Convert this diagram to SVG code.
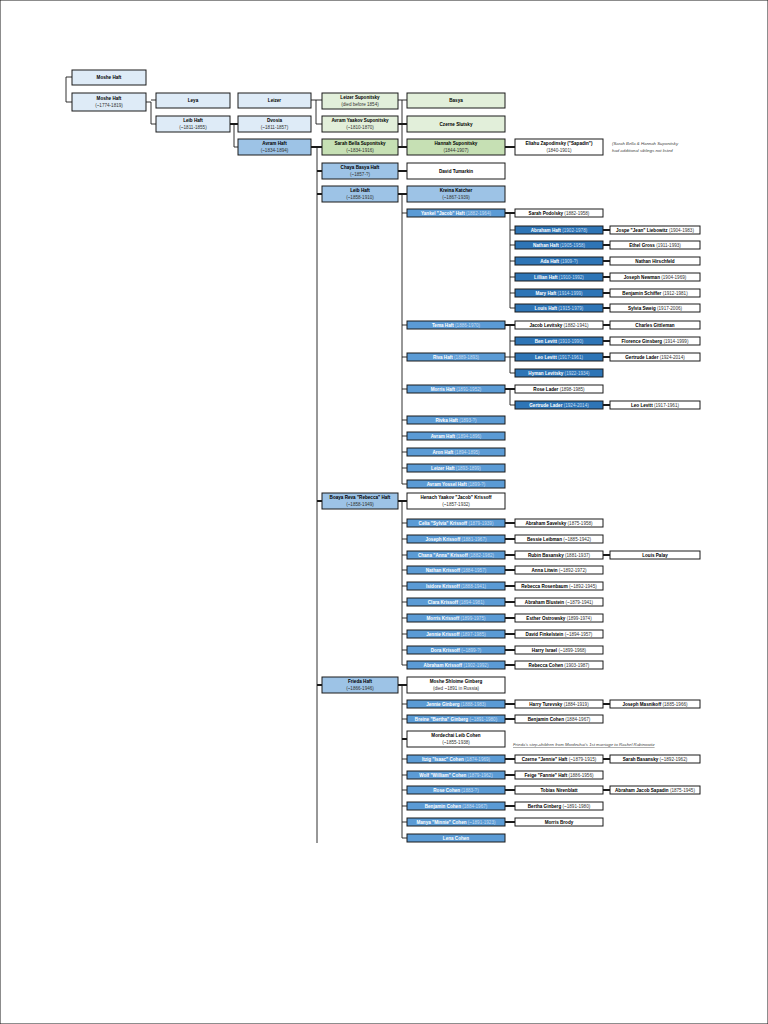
<svg xmlns="http://www.w3.org/2000/svg" width="768" height="1024" viewBox="0 0 768 1024">
<style>
rect{stroke:#1a1a1a;stroke-width:1}
.l1{fill:#deebf7}.l2{fill:#9dc3e6}.g1{fill:#e2efda}.g2{fill:#c6e0b4}.w{fill:#fff}.c1{fill:#5b9bd5}.c2{fill:#2e75b6}
text{font-family:"Liberation Sans",Arial,sans-serif;font-size:4.6px;text-anchor:middle}
.b{font-weight:bold;fill:#000}.wb{font-weight:bold;fill:#fff}.dt{font-weight:normal;fill:#333}.ld{font-weight:normal;fill:#c9def2}
.note{font-style:italic;fill:#444;text-anchor:start;font-size:4.3px}
#conn path{fill:none;stroke:#1a1a1a;stroke-width:0.9}
#conn .t{stroke-width:2}
</style>
<rect width="768" height="1024" fill="#fff" stroke="none"/>
<g id="conn">
<path d="M72 77H66V102H72"/>
<path d="M146 102H151V124H156M151 100H156"/>
<path class="t" d="M230 124H238"/>
<path d="M234 124V147H238"/>
<path d="M311 100H316V124H322M316 100H322"/>
<path d="M398 100H407M402 100V147"/>
<path class="t" d="M398 124H407"/>
<path class="t" d="M398 147H407M505 147H515"/>
<path class="t" d="M311 147H317"/>
<path d="M317 147V843"/>
<path class="t" d="M317 147H322M317 171H322M317 194H322M317 501H322M317 685H322"/>
<path class="t" d="M398 171H407M398 194H407M398 501H407M398 685H407"/>
<path d="M402 194V484M402 501V665M402 685V838"/>
<path d="M402 213H407M402 325H407M402 357H407M402 389H407M402 420H407M402 436H407M402 452H407M402 468H407M402 484H407"/>
<path class="t" d="M505 213H515M505 325H515M505 389H515"/>
<path d="M510 213V308M510 230H515M510 245H515M510 261H515M510 277H515M510 293H515M510 308H515"/>
<path class="t" d="M603 230H610M603 245H610M603 261H610M603 277H610M603 293H610M603 308H610"/>
<path d="M510 325V373M510 341H515M510 357H515M510 373H515M505 357H510"/>
<path class="t" d="M603 325H610M603 341H610M603 357H610"/>
<path d="M510 389V405H515"/>
<path class="t" d="M603 405H610"/>
<path d="M402 523H407M402 539H407M402 555H407M402 570H407M402 586H407M402 602H407M402 618H407M402 634H407M402 650H407M402 665H407"/>
<path class="t" d="M505 523H515M505 539H515M505 555H515M505 570H515M505 586H515M505 602H515M505 618H515M505 634H515M505 650H515M505 665H515M603 555H610"/>
<path d="M402 704H407M402 719H407M402 759H407M402 775H407M402 790H407M402 806H407M402 822H407M402 838H407"/>
<path class="t" d="M402 739H407M505 704H515M603 704H610M505 719H515M505 759H515M603 759H610M505 775H515M505 790H515M603 790H610M505 806H515M505 822H515"/>
</g>
<g id="moshe1"><rect class="l1" x="72" y="70" width="74" height="15"/><text class="b" x="109" y="79">Moshe Haft</text></g>
<g id="moshe2"><rect class="l1" x="72" y="93" width="74" height="18"/><text class="b" x="109" y="99.5">Moshe Haft</text><text class="dt" x="109" y="107">(~1774-1819)</text></g>
<g id="leya"><rect class="l1" x="156" y="93" width="74" height="15"/><text class="b" x="193" y="102">Leya</text></g>
<g id="leib1"><rect class="l1" x="156" y="116" width="74" height="16"/><text class="b" x="193" y="121.5">Leib Haft</text><text class="dt" x="193" y="129">(~1811-1855)</text></g>
<g id="leizer"><rect class="l1" x="238" y="93" width="73" height="15"/><text class="b" x="274.5" y="102">Leizer</text></g>
<g id="dvosia"><rect class="l1" x="238" y="116" width="73" height="16"/><text class="b" x="274.5" y="121.5">Dvosia</text><text class="dt" x="274.5" y="129">(~1811-1857)</text></g>
<g id="avram1"><rect class="l2" x="238" y="139" width="73" height="16"/><text class="b" x="274.5" y="144.5">Avram Haft</text><text class="dt" x="274.5" y="152">(~1834-1894)</text></g>
<g id="leizersup"><rect class="g1" x="322" y="93" width="76" height="16"/><text class="b" x="360" y="98.5">Leizer Suponitsky</text><text class="dt" x="360" y="106">(died before 1854)</text></g>
<g id="avramyaakov"><rect class="g1" x="322" y="116" width="76" height="16"/><text class="b" x="360" y="121.5">Avram Yaakov Suponitsky</text><text class="dt" x="360" y="129">(~1810-1870)</text></g>
<g id="sarahbella"><rect class="g2" x="322" y="139" width="76" height="16"/><text class="b" x="360" y="144.5">Sarah Bella Suponitsky</text><text class="dt" x="360" y="152">(~1834-1916)</text></g>
<g id="chaya"><rect class="l2" x="322" y="163" width="76" height="16"/><text class="b" x="360" y="168.5">Chaya Basya Haft</text><text class="dt" x="360" y="176">(~1857-?)</text></g>
<g id="leib2"><rect class="l2" x="322" y="186" width="76" height="16"/><text class="b" x="360" y="191.5">Leib Haft</text><text class="dt" x="360" y="199">(~1858-1910)</text></g>
<g id="boaya"><rect class="l2" x="322" y="493" width="76" height="16"/><text class="b" x="360" y="498.5">Boaya Reva "Rebecca" Haft</text><text class="dt" x="360" y="506">(~1858-1949)</text></g>
<g id="frieda"><rect class="l2" x="322" y="677" width="76" height="16"/><text class="b" x="360" y="682.5">Frieda Haft</text><text class="dt" x="360" y="690">(~1866-1946)</text></g>
<g id="basya"><rect class="g1" x="407" y="93" width="98" height="15"/><text class="b" x="456" y="102">Basya</text></g>
<g id="czerne"><rect class="g1" x="407" y="116" width="98" height="16"/><text class="b" x="456" y="125.5">Czerne Slutsky</text></g>
<g id="hannah"><rect class="g2" x="407" y="139" width="98" height="16"/><text class="b" x="456" y="144.5">Hannah Suponitsky</text><text class="dt" x="456" y="152">(1844-1907)</text></g>
<g id="eliahu"><rect class="w" x="515" y="139" width="88" height="16"/><text class="b" x="559" y="144.5">Eliahu Zapodinsky ("Sapadin")</text><text class="dt" x="559" y="152">(1840-1901)</text></g>
<text class="note" x="612" y="144.5">(Sarah Bella &amp; Hannah Suponitsky</text>
<text class="note" x="612" y="152">had additional siblings not listed</text>
<g id="david"><rect class="w" x="407" y="163" width="98" height="16"/><text class="b" x="456" y="172.5">David Tumarkin</text></g>
<g id="kreina"><rect class="l2" x="407" y="186" width="98" height="16"/><text class="b" x="456" y="191.5">Kreina Katcher</text><text class="dt" x="456" y="199">(~1867-1939)</text></g>

<g id="yankel"><rect class="c1" x="407" y="209" width="98" height="8"/><text class="wb" x="456" y="214.7">Yankel "Jacob" Haft <tspan class="ld">(1882-1964)</tspan></text></g>
<g id="sarahp"><rect class="w" x="515" y="209" width="88" height="8"/><text class="b" x="559" y="214.7">Sarah Podolsky <tspan class="dt">(1882-1958)</tspan></text></g>
<g id="abraham1"><rect class="c2" x="515" y="226" width="88" height="8"/><text class="wb" x="559" y="231.7">Abraham Haft <tspan class="ld">(1902-1978)</tspan></text></g>
<g id="jospe"><rect class="w" x="610" y="226" width="90" height="8"/><text class="b" x="655" y="231.7">Jospe "Jean" Liebowitz <tspan class="dt">(1904-1983)</tspan></text></g>
<g id="nathan1"><rect class="c2" x="515" y="241" width="88" height="8"/><text class="wb" x="559" y="246.7">Nathan Haft <tspan class="ld">(1905-1958)</tspan></text></g>
<g id="ethel"><rect class="w" x="610" y="241" width="90" height="8"/><text class="b" x="655" y="246.7">Ethel Gross <tspan class="dt">(1911-1993)</tspan></text></g>
<g id="ada"><rect class="c2" x="515" y="257" width="88" height="8"/><text class="wb" x="559" y="262.7">Ada Haft <tspan class="ld">(1909-?)</tspan></text></g>
<g id="nathanh"><rect class="w" x="610" y="257" width="90" height="8"/><text class="b" x="655" y="262.7">Nathan Hirschfeld</text></g>
<g id="lillian"><rect class="c2" x="515" y="273" width="88" height="8"/><text class="wb" x="559" y="278.7">Lillian Haft <tspan class="ld">(1910-1992)</tspan></text></g>
<g id="joseph1"><rect class="w" x="610" y="273" width="90" height="8"/><text class="b" x="655" y="278.7">Joseph Newman <tspan class="dt">(1904-1969)</tspan></text></g>
<g id="mary"><rect class="c2" x="515" y="289" width="88" height="8"/><text class="wb" x="559" y="294.7">Mary Haft <tspan class="ld">(1914-1999)</tspan></text></g>
<g id="benjamins"><rect class="w" x="610" y="289" width="90" height="8"/><text class="b" x="655" y="294.7">Benjamin Schiffer <tspan class="dt">(1912-1981)</tspan></text></g>
<g id="louis"><rect class="c2" x="515" y="304" width="88" height="8"/><text class="wb" x="559" y="309.7">Louis Haft <tspan class="ld">(1915-1979)</tspan></text></g>
<g id="sylvia"><rect class="w" x="610" y="304" width="90" height="8"/><text class="b" x="655" y="309.7">Sylvia Sweig <tspan class="dt">(1917-2006)</tspan></text></g>

<g id="tema"><rect class="c1" x="407" y="321" width="98" height="8"/><text class="wb" x="456" y="326.7">Tema Haft <tspan class="ld">(1886-1970)</tspan></text></g>
<g id="jacobl"><rect class="w" x="515" y="321" width="88" height="8"/><text class="b" x="559" y="326.7">Jacob Levitsky <tspan class="dt">(1882-1941)</tspan></text></g>
<g id="charles"><rect class="w" x="610" y="321" width="90" height="8"/><text class="b" x="655" y="326.7">Charles Gittleman</text></g>
<g id="ben"><rect class="c2" x="515" y="337" width="88" height="8"/><text class="wb" x="559" y="342.7">Ben Levitt <tspan class="ld">(1910-1990)</tspan></text></g>
<g id="florence"><rect class="w" x="610" y="337" width="90" height="8"/><text class="b" x="655" y="342.7">Florence Ginsberg <tspan class="dt">(1914-1999)</tspan></text></g>
<g id="riva"><rect class="c1" x="407" y="353" width="98" height="8"/><text class="wb" x="456" y="358.7">Riva Haft <tspan class="ld">(1889-1893)</tspan></text></g>
<g id="leo1"><rect class="c2" x="515" y="353" width="88" height="8"/><text class="wb" x="559" y="358.7">Leo Levitt <tspan class="ld">(1917-1961)</tspan></text></g>
<g id="gertrude1"><rect class="w" x="610" y="353" width="90" height="8"/><text class="b" x="655" y="358.7">Gertrude Lader <tspan class="dt">(1924-2014)</tspan></text></g>
<g id="hyman"><rect class="c2" x="515" y="369" width="88" height="8"/><text class="wb" x="559" y="374.7">Hyman Levitsky <tspan class="ld">(1922-1934)</tspan></text></g>
<g id="morris1"><rect class="c1" x="407" y="385" width="98" height="8"/><text class="wb" x="456" y="390.7">Morris Haft <tspan class="ld">(1891-1952)</tspan></text></g>
<g id="rose1"><rect class="w" x="515" y="385" width="88" height="8"/><text class="b" x="559" y="390.7">Rose Lader <tspan class="dt">(1898-1985)</tspan></text></g>
<g id="gertrude2"><rect class="c2" x="515" y="401" width="88" height="8"/><text class="wb" x="559" y="406.7">Gertrude Lader <tspan class="ld">(1924-2014)</tspan></text></g>
<g id="leo2"><rect class="w" x="610" y="401" width="90" height="8"/><text class="b" x="655" y="406.7">Leo Levitt <tspan class="dt">(1917-1961)</tspan></text></g>
<g id="rivka"><rect class="c1" x="407" y="416" width="98" height="8"/><text class="wb" x="456" y="421.7">Rivka Haft <tspan class="ld">(1893-?)</tspan></text></g>
<g id="avram2"><rect class="c1" x="407" y="432" width="98" height="8"/><text class="wb" x="456" y="437.7">Avram Haft <tspan class="ld">(1894-1896)</tspan></text></g>
<g id="aron"><rect class="c1" x="407" y="448" width="98" height="8"/><text class="wb" x="456" y="453.7">Aron Haft <tspan class="ld">(1894-1895)</tspan></text></g>
<g id="leizer2"><rect class="c1" x="407" y="464" width="98" height="8"/><text class="wb" x="456" y="469.7">Leizer Haft <tspan class="ld">(1893-1899)</tspan></text></g>
<g id="avramyossel"><rect class="c1" x="407" y="480" width="98" height="8"/><text class="wb" x="456" y="485.7">Avram Yossel Haft <tspan class="ld">(1899-?)</tspan></text></g>

<g id="henach"><rect class="w" x="407" y="493" width="98" height="16"/><text class="b" x="456" y="498.5">Henach Yaakov "Jacob" Krissoff</text><text class="dt" x="456" y="506">(~1857-1932)</text></g>
<g id="celia"><rect class="c1" x="407" y="519" width="98" height="8"/><text class="wb" x="456" y="524.7">Celia "Sylvia" Krissoff <tspan class="ld">(1879-1939)</tspan></text></g>
<g id="abrahams"><rect class="w" x="515" y="519" width="88" height="8"/><text class="b" x="559" y="524.7">Abraham Savelsky <tspan class="dt">(1875-1958)</tspan></text></g>
<g id="joseph2"><rect class="c1" x="407" y="535" width="98" height="8"/><text class="wb" x="456" y="540.7">Joseph Krissoff <tspan class="ld">(1881-1967)</tspan></text></g>
<g id="bessie"><rect class="w" x="515" y="535" width="88" height="8"/><text class="b" x="559" y="540.7">Bessie Leibman <tspan class="dt">(~1885-1942)</tspan></text></g>
<g id="chana"><rect class="c1" x="407" y="551" width="98" height="8"/><text class="wb" x="456" y="556.7">Chana "Anna" Krissoff <tspan class="ld">(1882-1982)</tspan></text></g>
<g id="rubin"><rect class="w" x="515" y="551" width="88" height="8"/><text class="b" x="559" y="556.7">Rubin Basansky <tspan class="dt">(1881-1937)</tspan></text></g>
<g id="louisp"><rect class="w" x="610" y="551" width="90" height="8"/><text class="b" x="655" y="556.7">Louis Palay</text></g>
<g id="nathan2"><rect class="c1" x="407" y="566" width="98" height="8"/><text class="wb" x="456" y="571.7">Nathan Krissoff <tspan class="ld">(1884-1957)</tspan></text></g>
<g id="anna"><rect class="w" x="515" y="566" width="88" height="8"/><text class="b" x="559" y="571.7">Anna Litwin <tspan class="dt">(~1892-1972)</tspan></text></g>
<g id="isidore"><rect class="c1" x="407" y="582" width="98" height="8"/><text class="wb" x="456" y="587.7">Isidore Krissoff <tspan class="ld">(1888-1941)</tspan></text></g>
<g id="rebeccar"><rect class="w" x="515" y="582" width="88" height="8"/><text class="b" x="559" y="587.7">Rebecca Rosenbaum <tspan class="dt">(~1892-1945)</tspan></text></g>
<g id="clara"><rect class="c1" x="407" y="598" width="98" height="8"/><text class="wb" x="456" y="603.7">Clara Krissoff <tspan class="ld">(1894-1981)</tspan></text></g>
<g id="abrahamb"><rect class="w" x="515" y="598" width="88" height="8"/><text class="b" x="559" y="603.7">Abraham Blustein <tspan class="dt">(~1879-1941)</tspan></text></g>
<g id="morris2"><rect class="c1" x="407" y="614" width="98" height="8"/><text class="wb" x="456" y="619.7">Morris Krissoff <tspan class="ld">(1899-1975)</tspan></text></g>
<g id="esther"><rect class="w" x="515" y="614" width="88" height="8"/><text class="b" x="559" y="619.7">Esther Ostrowsky <tspan class="dt">(1899-1974)</tspan></text></g>
<g id="jennie1"><rect class="c1" x="407" y="630" width="98" height="8"/><text class="wb" x="456" y="635.7">Jennie Krissoff <tspan class="ld">(1897-1985)</tspan></text></g>
<g id="davidf"><rect class="w" x="515" y="630" width="88" height="8"/><text class="b" x="559" y="635.7">David Finkelstein <tspan class="dt">(~1894-1957)</tspan></text></g>
<g id="dora"><rect class="c1" x="407" y="646" width="98" height="8"/><text class="wb" x="456" y="651.7">Dora Krissoff <tspan class="ld">(~1899-?)</tspan></text></g>
<g id="harryi"><rect class="w" x="515" y="646" width="88" height="8"/><text class="b" x="559" y="651.7">Harry Israel <tspan class="dt">(~1899-1968)</tspan></text></g>
<g id="abrahamk"><rect class="c1" x="407" y="661" width="98" height="8"/><text class="wb" x="456" y="666.7">Abraham Krissoff <tspan class="ld">(1902-1992)</tspan></text></g>
<g id="rebeccac"><rect class="w" x="515" y="661" width="88" height="8"/><text class="b" x="559" y="666.7">Rebecca Cohen <tspan class="dt">(1903-1987)</tspan></text></g>

<g id="moshes"><rect class="w" x="407" y="677" width="98" height="16"/><text class="b" x="456" y="682.5">Moshe Shloime Ginberg</text><text class="dt" x="456" y="690">(died ~1891 in Russia)</text></g>
<g id="jennieg"><rect class="c1" x="407" y="700" width="98" height="8"/><text class="wb" x="456" y="705.7">Jennie Ginberg <tspan class="ld">(1888-1983)</tspan></text></g>
<g id="harryt"><rect class="w" x="515" y="700" width="88" height="8"/><text class="b" x="559" y="705.7">Harry Turevsky <tspan class="dt">(1884-1919)</tspan></text></g>
<g id="josephm"><rect class="w" x="610" y="700" width="90" height="8"/><text class="b" x="655" y="705.7">Joseph Masnikoff <tspan class="dt">(1885-1966)</tspan></text></g>
<g id="breine"><rect class="c1" x="407" y="715" width="98" height="8"/><text class="wb" x="456" y="720.7">Breine "Bertha" Ginberg <tspan class="ld">(~1891-1980)</tspan></text></g>
<g id="benjaminc1"><rect class="w" x="515" y="715" width="88" height="8"/><text class="b" x="559" y="720.7">Benjamin Cohen <tspan class="dt">(1884-1967)</tspan></text></g>
<g id="mordechai"><rect class="w" x="407" y="731" width="98" height="16"/><text class="b" x="456" y="736.5">Mordechai Leib Cohen</text><text class="dt" x="456" y="744">(~1855-1938)</text></g>
<text class="note" x="513" y="746" text-decoration="underline">Frieda's step-children from Mordechai's 1st marriage to Rachel Rabinowitz</text>
<g id="itzig"><rect class="c1" x="407" y="755" width="98" height="8"/><text class="wb" x="456" y="760.7">Itzig "Isaac" Cohen <tspan class="ld">(1874-1969)</tspan></text></g>
<g id="czernej"><rect class="w" x="515" y="755" width="88" height="8"/><text class="b" x="559" y="760.7">Czerne "Jennie" Haft <tspan class="dt">(~1879-1915)</tspan></text></g>
<g id="sarahb"><rect class="w" x="610" y="755" width="90" height="8"/><text class="b" x="655" y="760.7">Sarah Basansky <tspan class="dt">(~1892-1962)</tspan></text></g>
<g id="wolf"><rect class="c1" x="407" y="771" width="98" height="8"/><text class="wb" x="456" y="776.7">Wolf "William" Cohen <tspan class="ld">(1879-1962)</tspan></text></g>
<g id="feige"><rect class="w" x="515" y="771" width="88" height="8"/><text class="b" x="559" y="776.7">Feige "Fannie" Haft <tspan class="dt">(1886-1956)</tspan></text></g>
<g id="rose2"><rect class="c1" x="407" y="786" width="98" height="8"/><text class="wb" x="456" y="791.7">Rose Cohen <tspan class="ld">(1883-?)</tspan></text></g>
<g id="tobias"><rect class="w" x="515" y="786" width="88" height="8"/><text class="b" x="559" y="791.7">Tobias Nirenblatt</text></g>
<g id="abrahamj"><rect class="w" x="610" y="786" width="90" height="8"/><text class="b" x="655" y="791.7">Abraham Jacob Sapadin <tspan class="dt">(1875-1945)</tspan></text></g>
<g id="benjaminc2"><rect class="c1" x="407" y="802" width="98" height="8"/><text class="wb" x="456" y="807.7">Benjamin Cohen <tspan class="ld">(1884-1967)</tspan></text></g>
<g id="bertha"><rect class="w" x="515" y="802" width="88" height="8"/><text class="b" x="559" y="807.7">Bertha Ginberg <tspan class="dt">(~1891-1980)</tspan></text></g>
<g id="manya"><rect class="c1" x="407" y="818" width="98" height="8"/><text class="wb" x="456" y="823.7">Manya "Minnie" Cohen <tspan class="ld">(~1891-1923)</tspan></text></g>
<g id="morrisb"><rect class="w" x="515" y="818" width="88" height="8"/><text class="b" x="559" y="823.7">Morris Brody</text></g>
<g id="lena"><rect class="c1" x="407" y="834" width="98" height="8"/><text class="wb" x="456" y="839.7">Lena Cohen</text></g>
</svg>
